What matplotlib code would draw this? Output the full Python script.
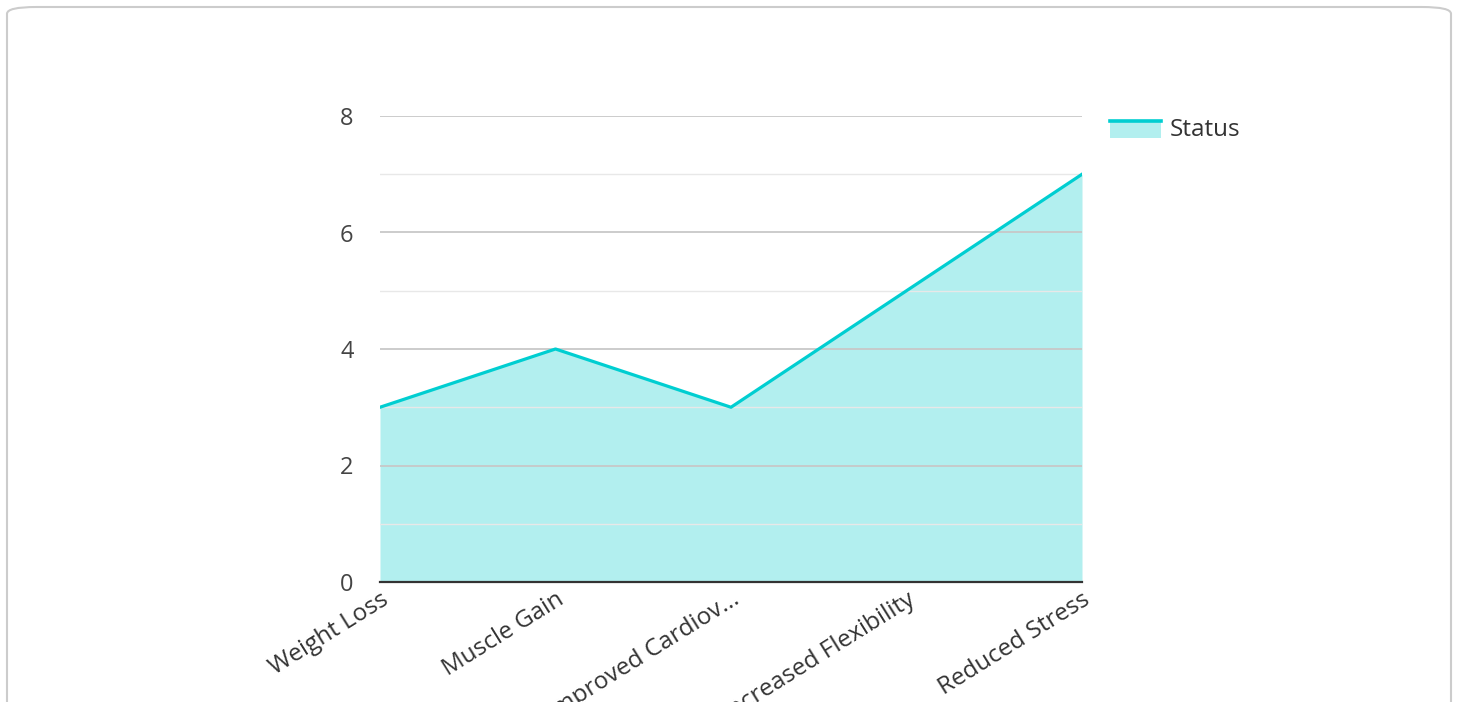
import matplotlib.pyplot as plt
from matplotlib.patches import FancyBboxPatch, Rectangle
from matplotlib.lines import Line2D
from matplotlib.legend_handler import HandlerBase

categories = ["Weight Loss", "Muscle Gain", "Improved Cardiov...",
              "Increased Flexibility", "Reduced Stress"]
status = [3, 4, 3, 5, 7]
series_name = "Status"

LINE = "#00CED1"
FILL = "#B2EFEF"

plt.rcParams['font.family'] = ['Open Sans', 'DejaVu Sans']


class AreaHandler(HandlerBase):
    # legend key: filled box with the line along its top edge
    def create_artists(self, legend, orig, xd, yd, width, height, fontsize, trans):
        top = yd + height * 1.05
        rect = Rectangle((xd, yd - height * 0.1), width, height * 1.15,
                         facecolor=FILL, edgecolor="none", transform=trans)
        line = Line2D([xd, xd + width], [top, top], color=LINE, lw=2.6,
                      transform=trans)
        return [rect, line]


fig = plt.figure(figsize=(14.58, 7.02), dpi=100)

# card border
fig.add_artist(FancyBboxPatch((7 / 1458, -0.05), 1444 / 1458, (702 - 7) / 702 + 0.05,
                              boxstyle="round,pad=0,rounding_size=0.02",
                              transform=fig.transFigure, facecolor="none",
                              edgecolor="#cccccc", lw=1.5, mutation_aspect=702 / 1458))

ax = fig.add_axes([380 / 1458, 1 - 582 / 702, (1082 - 380) / 1458, (582 - 116) / 702])

x = list(range(len(categories)))
ax.fill_between(x, status, 0, color=FILL, lw=0, zorder=2)
ax.plot(x, status, color=LINE, lw=2.3, zorder=3, label=series_name)

ax.set_xlim(0, len(categories) - 1)
ax.set_ylim(0, 8)
ax.set_yticks([0, 2, 4, 6, 8])
ax.set_yticks([1, 3, 5, 7], minor=True)
ax.grid(axis='y', which='major', color="#c8c8c8", lw=1.3, zorder=1)
ax.grid(axis='y', which='minor', color="#e8e8e8", lw=1.0, zorder=1)
ax.set_axisbelow(False)

for s in ["top", "right", "left"]:
    ax.spines[s].set_visible(False)
ax.spines["bottom"].set_color("#333333")
ax.spines["bottom"].set_linewidth(1.6)
ax.spines["bottom"].set_zorder(4)

ax.set_xticks(x)
ax.set_xticklabels(categories, rotation=32, ha='right', rotation_mode='anchor',
                   fontsize=17.5, color="#333333")
ax.tick_params(axis='x', length=0, pad=4)
ax.tick_params(axis='y', which='both', length=0, pad=19, labelsize=17, labelcolor="#444444")

handle = Rectangle((0, 0), 1, 1)
fig.legend([handle], [series_name], handler_map={Rectangle: AreaHandler()},
           loc='upper left', bbox_to_anchor=(1088 / 1458, 1 - 96 / 702),
           frameon=False, fontsize=17.5, handlelength=2.1, handleheight=0.6,
           handletextpad=0.35, labelcolor="#333333")

fig.savefig("out.png", dpi=100, facecolor="white")
